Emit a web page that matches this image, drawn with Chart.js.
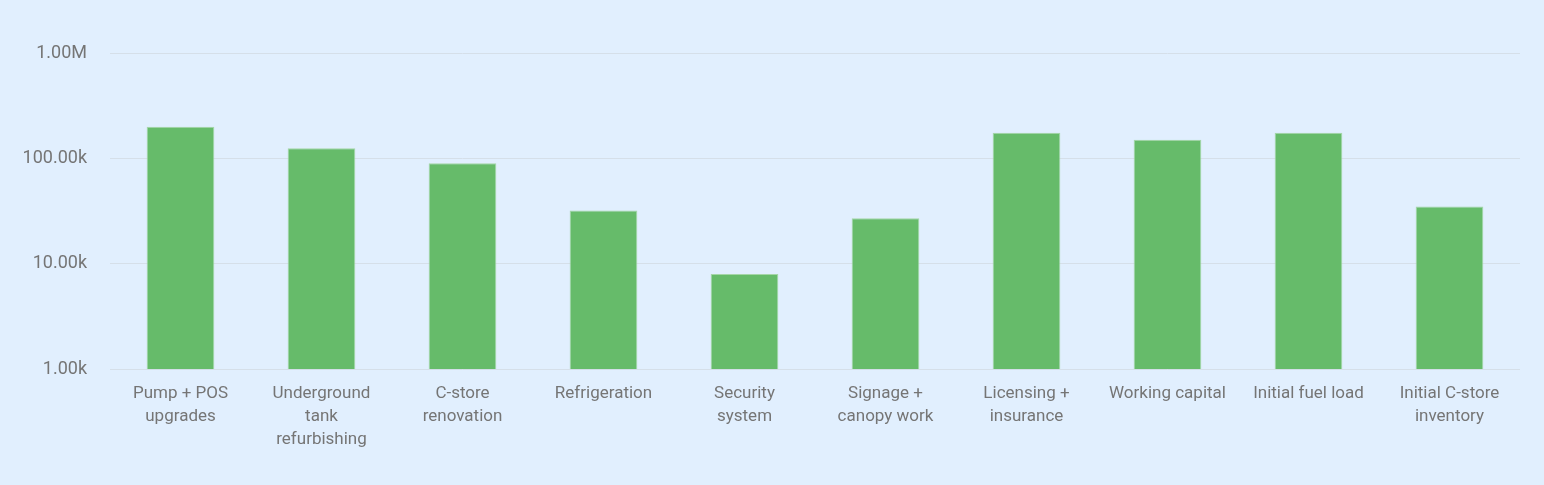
<!DOCTYPE html>
<html>
<head>
<meta charset="utf-8">
<script src="https://cdn.jsdelivr.net/npm/chart.js@4"></script>
<style>
html,body{margin:0;padding:0;background:#e1effe;}
#wrap{width:1544px;height:485px;position:relative;}
</style>
</head>
<body>
<div id="wrap"><canvas id="c" width="1544" height="485"></canvas></div>
<script>
const categories = [
  ["Pump + POS", "upgrades"],
  ["Underground", "tank", "refurbishing"],
  ["C-store", "renovation"],
  ["Refrigeration"],
  ["Security", "system"],
  ["Signage +", "canopy work"],
  ["Licensing +", "insurance"],
  ["Working capital"],
  ["Initial fuel load"],
  ["Initial C-store", "inventory"]
];
const costs = [200000, 125000, 90000, 32000, 8000, 27000, 175000, 150000, 175000, 35000];
const yTicks = [1000, 10000, 100000, 1000000];

function fmt(v){
  if (v >= 1e6) return (v/1e6).toFixed(2) + "M";
  if (v >= 1e3) return (v/1e3).toFixed(2) + "k";
  return v.toFixed(2);
}

Chart.defaults.font.family = "Roboto, 'Noto Sans', sans-serif";
Chart.defaults.color = "#757575";

new Chart(document.getElementById("c"), {
  type: "bar",
  data: {
    labels: categories,
    datasets: [{
      data: costs,
      backgroundColor: "#66bb6a",
      borderColor: "#a5d6a7",
      borderWidth: 1,
      categoryPercentage: 0.8,
      barPercentage: 0.6
    }]
  },
  options: {
    responsive: false,
    animation: false,
    layout: { padding: { top: 53, right: 24, bottom: 21, left: 0 } },
    plugins: { legend: { display: false }, tooltip: { enabled: false } },
    scales: {
      x: {
        grid: { display: false, drawTicks: false },
        border: { display: false },
        ticks: { padding: 13, maxRotation: 0, autoSkip: false, color: "#757575",
                 font: { size: 17, lineHeight: 1.35 } }
      },
      y: {
        type: "logarithmic",
        min: 1000,
        max: 1000000,
        afterBuildTicks: (s) => { s.ticks = yTicks.map(v => ({ value: v })); },
        afterFit: (s) => { s.width = 110; },
        grid: { color: "#d5dfe9", lineWidth: 1, drawTicks: false },
        border: { display: false },
        ticks: { padding: 23, color: "#757575", font: { size: 18 }, callback: (v) => fmt(v) }
      }
    }
  }
});
</script>
</body>
</html>
